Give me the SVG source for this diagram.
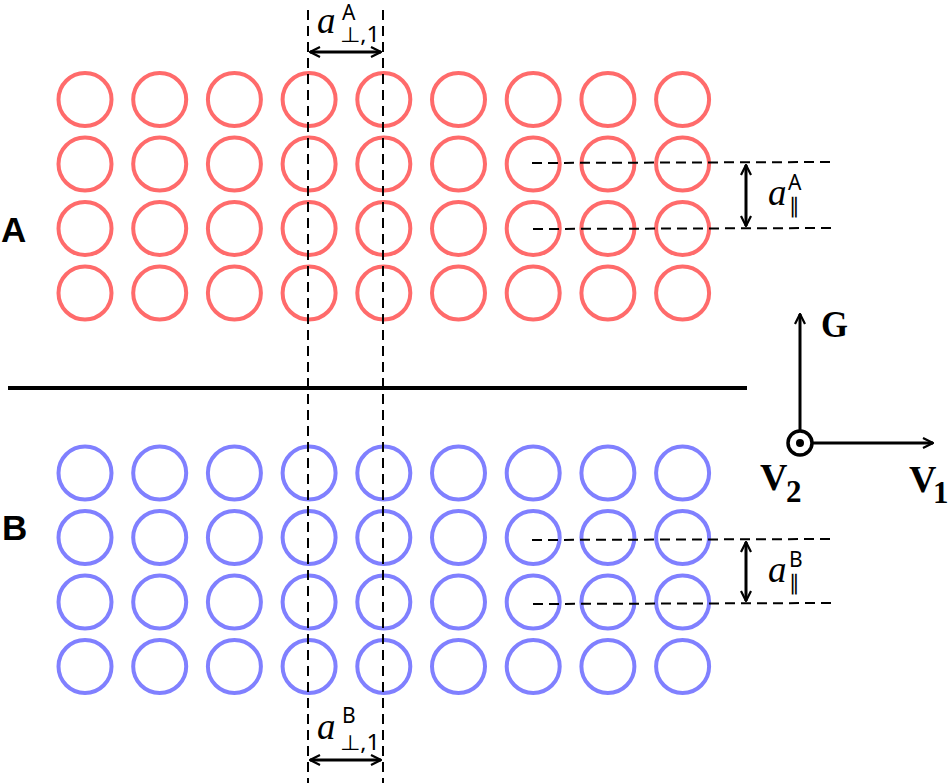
<svg xmlns="http://www.w3.org/2000/svg" width="949" height="783" viewBox="0 0 949 783">
<defs>
<style>
.ca{fill:none;stroke:#FF6B6B;stroke-width:4}
.cb{fill:none;stroke:#8080FF;stroke-width:4}
.dash{fill:none;stroke:#000;stroke-width:2;stroke-dasharray:10,6}
.solid{fill:none;stroke:#000;stroke-width:3}
.ai{font-family:"Liberation Serif",serif;font-style:italic;font-size:37px}
.sc{font-family:"Noto Sans","Liberation Sans",sans-serif;font-size:21px}
.lab{font-family:"Liberation Sans",Arial,sans-serif;font-weight:bold;font-size:35px}
.ax{font-family:"Liberation Serif",serif;font-weight:bold;font-size:38px}
.axs{font-family:"Liberation Serif",serif;font-weight:bold;font-size:31px}
</style>
<marker id="ah" viewBox="0 0 12 12" refX="11" refY="6" markerWidth="12" markerHeight="12" markerUnits="userSpaceOnUse" orient="auto-start-reverse">
<path d="M1,1 L11,6 L1,11" fill="none" stroke="#000" stroke-width="2.2"/>
</marker>
<g id="rowA">
<circle class="ca" cx="85" cy="0" r="26.5"/>
<circle class="ca" cx="159.7" cy="0" r="26.5"/>
<circle class="ca" cx="234.4" cy="0" r="26.5"/>
<circle class="ca" cx="309.1" cy="0" r="26.5"/>
<circle class="ca" cx="383.8" cy="0" r="26.5"/>
<circle class="ca" cx="458.5" cy="0" r="26.5"/>
<circle class="ca" cx="533.2" cy="0" r="26.5"/>
<circle class="ca" cx="607.9" cy="0" r="26.5"/>
<circle class="ca" cx="682.6" cy="0" r="26.5"/>
</g>
<g id="rowB">
<circle class="cb" cx="85" cy="0" r="26.5"/>
<circle class="cb" cx="159.7" cy="0" r="26.5"/>
<circle class="cb" cx="234.4" cy="0" r="26.5"/>
<circle class="cb" cx="309.1" cy="0" r="26.5"/>
<circle class="cb" cx="383.8" cy="0" r="26.5"/>
<circle class="cb" cx="458.5" cy="0" r="26.5"/>
<circle class="cb" cx="533.2" cy="0" r="26.5"/>
<circle class="cb" cx="607.9" cy="0" r="26.5"/>
<circle class="cb" cx="682.6" cy="0" r="26.5"/>
</g>
</defs>
<rect width="949" height="783" fill="#fff"/>
<g id="latticeA">
<use href="#rowA" y="99.5"/>
<use href="#rowA" y="164"/>
<use href="#rowA" y="228.5"/>
<use href="#rowA" y="293"/>
</g>
<g id="latticeB">
<use href="#rowB" y="473"/>
<use href="#rowB" y="537.5"/>
<use href="#rowB" y="602"/>
<use href="#rowB" y="666.5"/>
</g>
<g id="labelA"><text class="lab" x="1" y="242">A</text></g>
<g id="labelB"><text class="lab" x="2" y="540">B</text></g>
<g id="interface"><line x1="8" y1="388" x2="747" y2="388" stroke="#000" stroke-width="4"/></g>
<g id="connectors">
<line class="dash" x1="308" y1="10" x2="308" y2="783"/>
<line class="dash" x1="383" y1="10" x2="383" y2="783"/>
<line class="solid" x1="310" y1="52" x2="381" y2="52" marker-start="url(#ah)" marker-end="url(#ah)"/>
<line class="solid" x1="310" y1="760" x2="381" y2="760" marker-start="url(#ah)" marker-end="url(#ah)"/>
<line class="dash" x1="532" y1="163" x2="833" y2="162"/>
<line class="dash" x1="533" y1="229" x2="833" y2="228"/>
<line class="solid" x1="746" y1="165" x2="746" y2="226" marker-start="url(#ah)" marker-end="url(#ah)"/>
<line class="dash" x1="532" y1="540" x2="833" y2="539"/>
<line class="dash" x1="533" y1="604" x2="833" y2="603"/>
<line class="solid" x1="746" y1="542" x2="746" y2="601" marker-start="url(#ah)" marker-end="url(#ah)"/>
</g>
<g id="label-aperpA">
<text class="ai" x="317" y="33">a</text>
<text class="sc" x="342" y="20">A</text>
<text class="sc" x="340" y="42" textLength="40" lengthAdjust="spacingAndGlyphs">⊥,1</text>
</g>
<g id="label-aperpB">
<text class="ai" x="317" y="739">a</text>
<text class="sc" x="342" y="723">B</text>
<text class="sc" x="340" y="750" textLength="40" lengthAdjust="spacingAndGlyphs">⊥,1</text>
</g>
<g id="label-aparA">
<text class="ai" x="768" y="205">a</text>
<text class="sc" x="788" y="190">A</text>
<text class="sc" x="789" y="213">∥</text>
</g>
<g id="label-aparB">
<text class="ai" x="768" y="582">a</text>
<text class="sc" x="789" y="567">B</text>
<text class="sc" x="789" y="590">∥</text>
</g>
<g id="axes">
<line class="solid" x1="800" y1="430" x2="800" y2="314" marker-end="url(#ah)"/>
<line class="solid" x1="813" y1="443" x2="933" y2="443" marker-end="url(#ah)"/>
<circle cx="800" cy="443" r="12" fill="#fff" stroke="#000" stroke-width="3.5"/>
<circle cx="800" cy="443" r="4" fill="#000"/>
<text class="ax" x="821" y="337" textLength="27" lengthAdjust="spacingAndGlyphs">G</text>
<text class="ax" x="760" y="490">V</text>
<text class="axs" x="786" y="502">2</text>
<text class="ax" x="909" y="492">V</text>
<text class="axs" x="933" y="503">1</text>
</g>
</svg>
